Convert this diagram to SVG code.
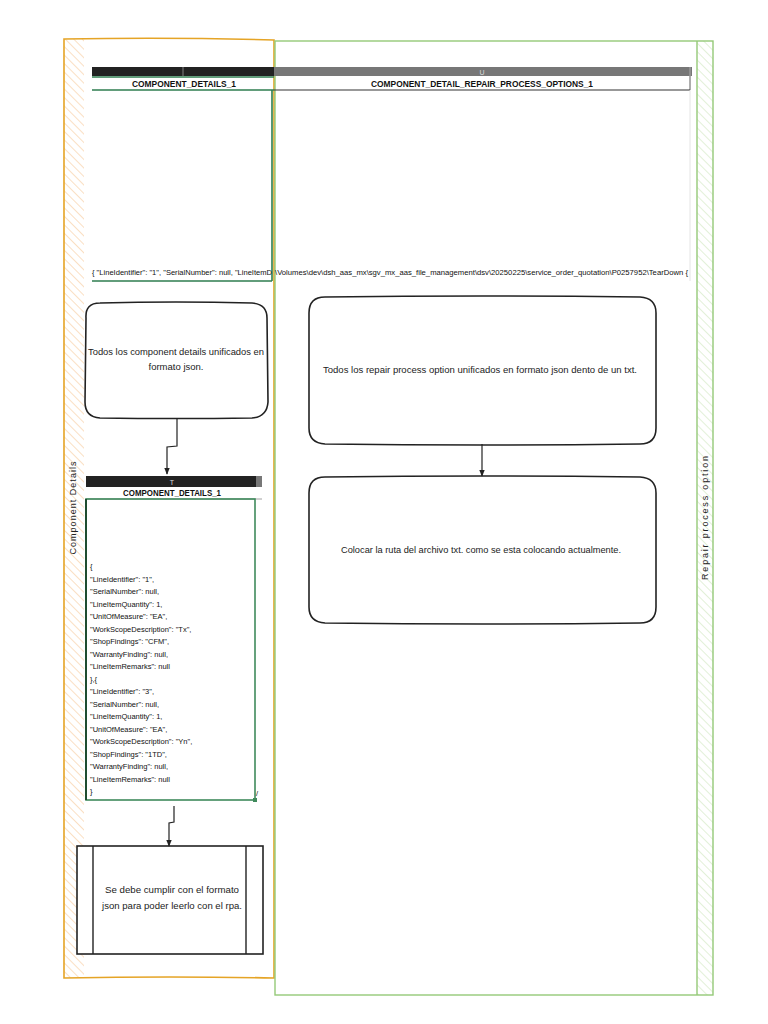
<svg xmlns="http://www.w3.org/2000/svg" width="768" height="1024" viewBox="0 0 768 1024">
<style>
.hand{font-family:"Liberation Sans","Noto Sans",sans-serif;font-size:9.5px;fill:#222}
.cell{font-family:"Liberation Sans",sans-serif;font-size:7.5px;fill:#111}
.hdr{font-family:"Liberation Sans",sans-serif;font-size:9px;font-weight:bold;fill:#111}
.box{fill:#fff;stroke:#222;stroke-width:1.6}
.conn{fill:none;stroke:#222;stroke-width:1.2}
.lanelbl{font-family:"Liberation Sans",sans-serif;font-size:9px;fill:#222}
</style>
<defs>
<pattern id="hatchO" width="6" height="6" patternUnits="userSpaceOnUse" patternTransform="rotate(-45)">
<line x1="0" y1="0" x2="0" y2="6" stroke="#f6c99a" stroke-width="1.2"/>
</pattern>
<pattern id="hatchG" width="6" height="6" patternUnits="userSpaceOnUse" patternTransform="rotate(-45)">
<line x1="0" y1="0" x2="0" y2="6" stroke="#cfe6bd" stroke-width="1.2"/>
</pattern>
<marker id="arr" viewBox="0 0 10 10" refX="9" refY="5" markerWidth="6" markerHeight="6" orient="auto">
<path d="M0,1 L10,5 L0,9 Z" fill="#222"/>
</marker>
</defs>
<rect width="768" height="1024" fill="#fff"/>

<g id="lane-component-details">
<rect x="64" y="39" width="20" height="939" fill="url(#hatchO)"/>
<path d="M64,39 Q170,37 274,40 L274,978 Q170,976 64,978 Z" fill="none" stroke="#e5a426" stroke-width="1.6"/>
<text class="lanelbl" transform="translate(76,508) rotate(-90)" text-anchor="middle" textLength="93" lengthAdjust="spacing">Component Details</text>
</g>

<g id="lane-repair-process">
<rect x="697" y="41" width="16" height="954" fill="url(#hatchG)"/>
<rect x="275" y="41" width="438" height="954" fill="none" stroke="#95c978" stroke-width="1.4"/>
<line x1="697" y1="41" x2="697" y2="995" stroke="#95c978" stroke-width="1.4"/>
<text class="lanelbl" transform="translate(708,518) rotate(-90)" text-anchor="middle" textLength="124" lengthAdjust="spacing">Repair process option</text>
</g>

<g id="sheet-top">
<rect x="92" y="67" width="182" height="9" fill="#222"/>
<line x1="183" y1="67" x2="183" y2="76" stroke="#999" stroke-width="0.8"/>
<rect x="274" y="67" width="418" height="9" fill="#777"/>
<line x1="690" y1="67" x2="690" y2="76" stroke="#aaa" stroke-width="1"/>
<text x="482" y="74.5" font-family="Liberation Sans,sans-serif" font-size="7" fill="#ddd" text-anchor="middle">U</text>
<line x1="92" y1="77" x2="274" y2="77" stroke="#2e7d4f" stroke-width="1.4"/>
<line x1="92" y1="90" x2="274" y2="90" stroke="#2e7d4f" stroke-width="1.6"/>
<line x1="274" y1="90" x2="690" y2="90" stroke="#333" stroke-width="1.2"/>
<line x1="690" y1="76" x2="690" y2="90" stroke="#333" stroke-width="0.8"/>
<text class="hdr" x="184" y="87" text-anchor="middle" textLength="104" lengthAdjust="spacingAndGlyphs">COMPONENT_DETAILS_1</text>
<text class="hdr" x="482" y="87" text-anchor="middle" textLength="222" lengthAdjust="spacingAndGlyphs">COMPONENT_DETAIL_REPAIR_PROCESS_OPTIONS_1</text>
<line x1="272" y1="90" x2="272" y2="281" stroke="#2e7d4f" stroke-width="1.6"/>
<line x1="92" y1="281" x2="272" y2="281" stroke="#2e7d4f" stroke-width="1.6"/>
<line x1="690" y1="90" x2="690" y2="281" stroke="#ddd" stroke-width="0.8"/>
<text class="cell" x="92" y="275" textLength="180" lengthAdjust="spacingAndGlyphs">{ "LineIdentifier": "1", "SerialNumber": null, "LineItemD</text>
<text class="cell" x="275" y="275" textLength="413" lengthAdjust="spacingAndGlyphs">\Volumes\dev\dsh_aas_mx\sgv_mx_aas_file_management\dsv\20250225\service_order_quotation\P0257952\TearDown {</text>
</g>

<g id="node-component-json">
<path class="box" d="M100,303 Q176,301 252,303 Q267,304 267,318 L268,402 Q267,417 252,418 Q176,419 100,418 Q85,417 85,402 L86,318 Q85,303 100,303 Z"/>
<text class="hand" x="176" y="355" text-anchor="middle" textLength="176" lengthAdjust="spacingAndGlyphs">Todos los component details  unificados en</text>
<text class="hand" x="176" y="370" text-anchor="middle">formato json.</text>
</g>

<g id="node-repair-json">
<path class="box" d="M325,297 Q482,295 640,297 Q656,298 656,313 L656,428 Q656,444 640,444 Q482,446 325,444 Q309,443 309,428 L309,313 Q309,297 325,297 Z"/>
<text class="hand" x="480" y="373" text-anchor="middle" textLength="314" lengthAdjust="spacingAndGlyphs">Todos los repair process option  unificados en formato json dento de un txt.</text>
</g>

<g id="node-ruta-txt">
<path class="box" d="M325,477 Q482,475 640,477 Q656,478 656,493 L656,607 Q656,623 640,623 Q482,625 325,623 Q309,622 309,607 L309,493 Q309,477 325,477 Z"/>
<text class="hand" x="481" y="553" text-anchor="middle" textLength="280" lengthAdjust="spacingAndGlyphs">Colocar la ruta del archivo txt. como se esta colocando actualmente.</text>
</g>

<g id="sheet-component-details">
<rect x="86" y="476" width="170" height="11" fill="#222"/>
<rect x="256" y="476" width="6" height="11" fill="#777"/>
<text x="172" y="485" font-family="Liberation Sans,sans-serif" font-size="7" fill="#ddd" text-anchor="middle">T</text>
<line x1="86" y1="499" x2="262" y2="499" stroke="#888" stroke-width="0.8"/>
<text class="hdr" x="172" y="496" text-anchor="middle" textLength="98" lengthAdjust="spacingAndGlyphs">COMPONENT_DETAILS_1</text>
<rect x="86" y="499" width="169" height="301" fill="none" stroke="#3f8a5c" stroke-width="1.6"/>
<line x1="86" y1="499" x2="86" y2="800" stroke="#1f4d30" stroke-width="2"/>
<rect x="253" y="798" width="4" height="4" fill="#3f8a5c"/>
<text class="cell" x="256" y="796" font-size="6">/</text>
<text class="cell" x="90" y="569">{</text>
<text class="cell" x="90" y="582">"LineIdentifier": "1",</text>
<text class="cell" x="90" y="594">"SerialNumber": null,</text>
<text class="cell" x="90" y="607">"LineItemQuantity": 1,</text>
<text class="cell" x="90" y="619">"UnitOfMeasure": "EA",</text>
<text class="cell" x="90" y="632">"WorkScopeDescription": "Tx",</text>
<text class="cell" x="90" y="644">"ShopFindings": "CFM",</text>
<text class="cell" x="90" y="657">"WarrantyFinding": null,</text>
<text class="cell" x="90" y="669">"LineItemRemarks": null</text>
<text class="cell" x="90" y="682">},{</text>
<text class="cell" x="90" y="694">"LineIdentifier": "3",</text>
<text class="cell" x="90" y="707">"SerialNumber": null,</text>
<text class="cell" x="90" y="719">"LineItemQuantity": 1,</text>
<text class="cell" x="90" y="732">"UnitOfMeasure": "EA",</text>
<text class="cell" x="90" y="744">"WorkScopeDescription": "Yn",</text>
<text class="cell" x="90" y="757">"ShopFindings": "1TD",</text>
<text class="cell" x="90" y="769">"WarrantyFinding": null,</text>
<text class="cell" x="90" y="782">"LineItemRemarks": null</text>
<text class="cell" x="90" y="794">}</text>
</g>

<g id="node-formato-json">
<rect class="box" x="77" y="846" width="186" height="108"/>
<line x1="93" y1="846" x2="93" y2="954" stroke="#222" stroke-width="1.4"/>
<line x1="246" y1="846" x2="246" y2="954" stroke="#222" stroke-width="1.4"/>
<text class="hand" x="172" y="893" text-anchor="middle" textLength="134" lengthAdjust="spacingAndGlyphs">Se debe cumplir con el formato</text>
<text class="hand" x="172" y="909" text-anchor="middle" textLength="140" lengthAdjust="spacingAndGlyphs">json para poder leerlo con el rpa.</text>
</g>

<g id="connectors">
<path class="conn" d="M177,418 L177,446 L167,447 L167,474" marker-end="url(#arr)"/>
<path class="conn" d="M482,444 L482,476" marker-end="url(#arr)"/>
<path class="conn" d="M174,806 L174,822 L169,823 L169,846" marker-end="url(#arr)"/>
</g>
</svg>
